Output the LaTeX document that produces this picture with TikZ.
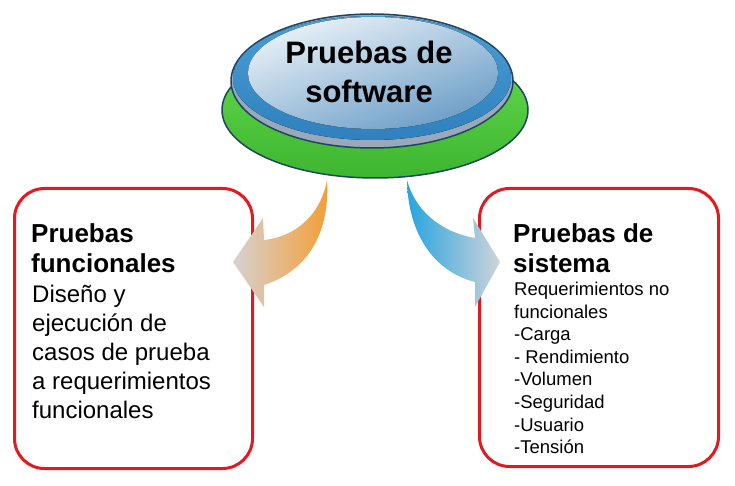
\documentclass[tikz,border=0pt]{standalone}
\usepackage{fontspec}
\setmainfont{Liberation Sans}

\definecolor{boxred}{HTML}{E01A1F}
\definecolor{rimdark}{HTML}{1F4560}
\definecolor{greenhi}{HTML}{66DC52}
\definecolor{greenlo}{HTML}{3DB52E}
\definecolor{bluehi}{HTML}{4A9FD6}
\definecolor{bluelo}{HTML}{2F80BC}
\definecolor{bevel}{HTML}{9AA8BC}
\definecolor{capehi}{HTML}{E9F1F7}
\definecolor{capelo}{HTML}{6B9DC7}
\definecolor{arrorange}{HTML}{F59D32}
\definecolor{arrgreyl}{HTML}{D6D2D2}
\definecolor{arrblue}{HTML}{28A4E0}
\definecolor{arrgreyr}{HTML}{CED3DA}

\tikzset{
  redbox/.style={draw=boxred, line width=3pt, rounded corners=30pt, fill=white},
  headtxt/.style={font=\bfseries\fontsize{26}{30}\selectfont, anchor=north west, inner sep=0pt, align=left},
  bodytxt/.style={anchor=north west, inner sep=0pt, align=left}
}

\begin{document}
\begin{tikzpicture}[x=1pt, y=-1pt]
  \useasboundingbox (0,0) rectangle (735,486);

  % the two boxes
  \node[redbox, minimum width=238pt, minimum height=280pt] (funcbox) at (133.5,328.5) {};
  \node[redbox, minimum width=239pt, minimum height=278pt] (sisbox) at (599,327.5) {};

  % the button on top
  \fill[top color=greenhi, bottom color=greenlo, draw=rimdark, line width=1.5pt] (375,110) ellipse [x radius=153, y radius=68];
  \fill[bevel, draw=rimdark, line width=1.5pt] (372,81) ellipse [x radius=141, y radius=67];
  \fill[top color=bluehi, bottom color=bluelo] (372,78) ellipse [x radius=139, y radius=62];
  \fill[top color=capehi, bottom color=capelo, shading angle=20] (373,73) ellipse [x radius=125, y radius=56];
  \node[font=\bfseries\fontsize{31}{39}\selectfont, align=center, anchor=north, inner sep=0pt] (soft) at (369,40.5) {Pruebas de\\software};

  % left arrow
  \shade[left color=arrgreyl, right color=arrorange]
    (327,180) .. controls (322,210) and (300,236) .. (264,240)
    -- (263,218) -- (233,262) -- (264,307) -- (264,285)
    .. controls (310,270) and (330,230) .. (327,180) -- cycle;
  % right arrow
  \shade[left color=arrblue, right color=arrgreyr]
    (407,180) .. controls (415,210) and (440,232) .. (475,238)
    -- (473,218) -- (500,262) -- (475,307) -- (475,282)
    .. controls (435,272) and (408,235) .. (407,180) -- cycle;

  % texts of the boxes
  \node[headtxt] (funchead) at (31,223.5) {Pruebas\\funcionales};
  \node[bodytxt, font=\fontsize{24}{29}\selectfont] (funcbody) at (32,284.8)
    {Diseño y\\ejecución de\\casos de prueba\\a requerimientos\\funcionales};
  \node[headtxt] (sishead) at (513,223) {Pruebas de\\sistema};
  \node[bodytxt, font=\fontsize{18.5}{22.6}\selectfont] (sisbody) at (514,281.8)
    {Requerimientos no\\funcionales\\-Carga\\- Rendimiento\\-Volumen\\-Seguridad\\-Usuario\\-Tensión};
\end{tikzpicture}
\end{document}
